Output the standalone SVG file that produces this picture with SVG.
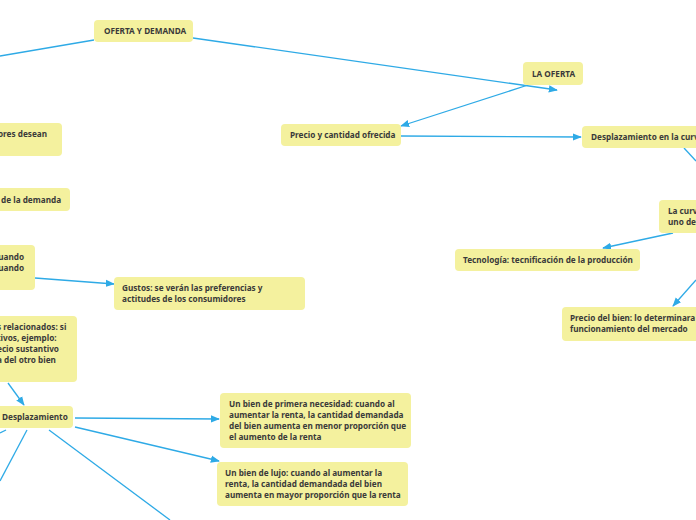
<svg xmlns="http://www.w3.org/2000/svg" width="696" height="520" viewBox="0 0 696 520">
<style>
.b{fill:#f4f19e;stroke:none}
.t{font-family:"Noto Sans","Open Sans",sans-serif;font-size:8.2px;font-weight:bold;fill:#3a3a3a}
.c{stroke:#2eaae6;stroke-width:1.3;fill:none}
</style>
<defs><marker id="a" viewBox="0 0 10 10" refX="9" refY="5" markerWidth="7" markerHeight="7" orient="auto"><path d="M0,1 L10,5 L0,9 z" fill="#2eaae6"/></marker></defs>
<rect width="696" height="520" fill="#fff"/>
<g id="connectors">
<path class="c" d="M94,40 L0,56"/>
<path class="c" d="M193,38 L557,90" marker-end="url(#a)"/>
<path class="c" d="M528,85 L401,126" marker-end="url(#a)"/>
<path class="c" d="M401,136 L581,137" marker-end="url(#a)"/>
<path class="c" d="M684,148 L696,161"/>
<path class="c" d="M673,233 L603,248" marker-end="url(#a)"/>
<path class="c" d="M696,280 L673,306" marker-end="url(#a)"/>
<path class="c" d="M35,278 L114,284" marker-end="url(#a)"/>
<path class="c" d="M8,383 L24,405" marker-end="url(#a)"/>
<path class="c" d="M75,418 L219,419" marker-end="url(#a)"/>
<path class="c" d="M75,427 L219,461" marker-end="url(#a)"/>
<path class="c" d="M49,430 L170,520"/>
<path class="c" d="M27,430 L0,481"/>
<path class="c" d="M0,433 L6,430"/>
</g>
<g id="n1"><rect class="b" x="94" y="20" width="99" height="22" rx="4"/><text class="t" x="104" y="34">OFERTA Y DEMANDA</text></g>
<g id="n2"><rect class="b" x="523" y="62" width="60" height="23" rx="4"/><text class="t" x="532" y="77">LA OFERTA</text></g>
<g id="n3"><rect class="b" x="281" y="124" width="120" height="22" rx="4"/><text class="t" x="290" y="138">Precio y cantidad ofrecida</text></g>
<g id="n4"><rect class="b" x="582" y="126" width="120" height="22" rx="4"/><text class="t" x="591" y="140">Desplazamiento en la curva</text></g>
<g id="n5"><rect class="b" x="659" y="200" width="50" height="33" rx="4"/><text class="t" x="668" y="214">La curva</text><text class="t" x="668" y="225">uno de</text></g>
<g id="n6"><rect class="b" x="455" y="249" width="185" height="22" rx="4"/><text class="t" x="463" y="263">Tecnología: tecnificación de la producción</text></g>
<g id="n7"><rect class="b" x="562" y="307" width="150" height="34" rx="4"/><text class="t" x="570" y="321">Precio del bien: lo determinara el</text><text class="t" x="570" y="332">funcionamiento del mercado</text></g>
<g id="n8"><rect class="b" x="-10" y="123" width="72" height="33" rx="4"/><text class="t" x="-2" y="137">ores desean</text></g>
<g id="n9"><rect class="b" x="-10" y="188" width="80" height="23" rx="4"/><text class="t" x="-6" y="203">a de la demanda</text></g>
<g id="n10"><rect class="b" x="-10" y="245" width="45" height="45" rx="4"/><text class="t" x="-6" y="260">cuando</text><text class="t" x="-6" y="271">cuando</text></g>
<g id="n11"><rect class="b" x="114" y="277" width="191" height="33" rx="4"/><text class="t" x="122" y="291">Gustos: se verán las preferencias y</text><text class="t" x="122" y="302">actitudes de los consumidores</text></g>
<g id="n12"><rect class="b" x="-10" y="316" width="87" height="66" rx="4"/><text class="t" x="-3" y="330">s relacionados: si</text><text class="t" x="-3" y="341">tivos, ejemplo:</text><text class="t" x="-3" y="352">ecio sustantivo</text><text class="t" x="-3" y="363">a del otro bien</text></g>
<g id="n13"><rect class="b" x="-10" y="406" width="83" height="22" rx="4"/><text class="t" x="2" y="420">Desplazamiento</text></g>
<g id="n14"><rect class="b" x="220" y="393" width="191" height="55" rx="4"/><text class="t" x="229" y="407">Un bien de primera necesidad: cuando al</text><text class="t" x="229" y="418">aumentar la renta, la cantidad demandada</text><text class="t" x="229" y="429">del bien aumenta en menor proporción que</text><text class="t" x="229" y="440">el aumento de la renta</text></g>
<g id="n15"><rect class="b" x="217" y="462" width="191" height="44" rx="4"/><text class="t" x="225" y="476">Un bien de lujo: cuando al aumentar la</text><text class="t" x="225" y="487">renta, la cantidad demandada del bien</text><text class="t" x="225" y="498">aumenta en mayor proporción que la renta</text></g>
</svg>
